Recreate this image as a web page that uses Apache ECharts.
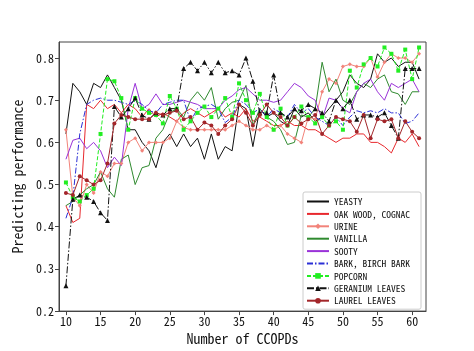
<!DOCTYPE html>
<html>
<head>
<meta charset="utf-8">
<script src="https://cdn.jsdelivr.net/npm/echarts@6/dist/echarts.min.js"></script>
<style>
  html, body { margin: 0; padding: 0; background: #fff; }
  #chart { width: 474px; height: 351px; }
</style>
</head>
<body>
<div id="chart"></div>
<script>
const FONT = "'Noto Sans Mono CJK SC', 'DejaVu Sans Mono', monospace";
const AXISCOLOR = '#444';

// x = number of CCOPDs, 10..61
const xValues = [];
for (let i = 10; i <= 61; i++) xValues.push(i);

const xTicks = [10, 15, 20, 25, 30, 35, 40, 45, 50, 55, 60];
const yTicks = [0.2, 0.3, 0.4, 0.5, 0.6, 0.7, 0.8];

const yeasty = [0.62, 0.74, 0.72, 0.69, 0.74, 0.73, 0.76, 0.73, 0.70, 0.63,
  0.63, 0.60, 0.58, 0.54, 0.60, 0.62, 0.59, 0.62, 0.59, 0.61,
  0.56, 0.62, 0.56, 0.59, 0.58, 0.69, 0.68, 0.59, 0.68, 0.66,
  0.67, 0.65, 0.64, 0.68, 0.66, 0.67, 0.65, 0.66, 0.68, 0.70,
  0.72, 0.76, 0.74, 0.73, 0.75, 0.81, 0.79, 0.80, 0.78, 0.79,
  0.79, 0.75];
const oakWood = [0.45, 0.41, 0.42, 0.69, 0.68, 0.70, 0.68, 0.69, 0.67, 0.69,
  0.68, 0.66, 0.68, 0.66, 0.67, 0.66, 0.65, 0.67, 0.68, 0.67,
  0.66, 0.67, 0.68, 0.66, 0.67, 0.66, 0.68, 0.65, 0.66, 0.65,
  0.64, 0.64, 0.65, 0.64, 0.64, 0.63, 0.63, 0.62, 0.61, 0.60,
  0.61, 0.61, 0.62, 0.62, 0.60, 0.60, 0.59, 0.575, 0.61, 0.60,
  0.62, 0.59];
const urine = [0.63, 0.47, 0.45, 0.50, 0.48, 0.53, 0.52, 0.55, 0.55, 0.60,
  0.61, 0.58, 0.60, 0.60, 0.60, 0.61, 0.65, 0.635, 0.63, 0.63,
  0.63, 0.63, 0.63, 0.63, 0.64, 0.65, 0.64, 0.63, 0.63, 0.64,
  0.63, 0.64, 0.62, 0.61, 0.60, 0.66, 0.655, 0.72, 0.75, 0.74,
  0.78, 0.785, 0.78, 0.78, 0.80, 0.755, 0.79, 0.81, 0.80, 0.80,
  0.79, 0.81];
const vanilla = [0.45, 0.46, 0.475, 0.49, 0.50, 0.53, 0.49, 0.47, 0.56, 0.57,
  0.50, 0.54, 0.545, 0.61, 0.63, 0.67, 0.68, 0.66, 0.70, 0.72,
  0.70, 0.73, 0.655, 0.68, 0.695, 0.70, 0.735, 0.64, 0.68, 0.66,
  0.65, 0.63, 0.595, 0.60, 0.665, 0.66, 0.68, 0.79, 0.72, 0.75,
  0.70, 0.69, 0.72, 0.74, 0.73, 0.75, 0.76, 0.72, 0.715, 0.69,
  0.72, 0.72];
const sooty = [0.56, 0.605, 0.61, 0.585, 0.60, 0.58, 0.54, 0.565, 0.545, 0.68,
  0.74, 0.68, 0.69, 0.715, 0.69, 0.69, 0.695, 0.70, 0.695, 0.69,
  0.68, 0.68, 0.68, 0.70, 0.71, 0.725, 0.73, 0.715, 0.70, 0.70,
  0.695, 0.70, 0.72, 0.74, 0.73, 0.71, 0.70, 0.655, 0.705, 0.70,
  0.68, 0.67, 0.72, 0.74, 0.75, 0.72, 0.70, 0.74, 0.73, 0.74,
  0.75, 0.72];
const bark = [0.42, 0.47, 0.62, 0.69, 0.70, 0.705, 0.70, 0.70, 0.695, 0.69,
  0.70, 0.69, 0.675, 0.67, 0.69, 0.695, 0.70, 0.70, 0.65, 0.68,
  0.685, 0.69, 0.68, 0.647, 0.66, 0.70, 0.69, 0.67, 0.68, 0.66,
  0.68, 0.67, 0.66, 0.69, 0.67, 0.68, 0.66, 0.65, 0.64, 0.66,
  0.64, 0.66, 0.675, 0.67, 0.675, 0.67, 0.68, 0.67, 0.67, 0.645,
  0.65, 0.67];
const popcorn = [0.505, 0.47, 0.46, 0.475, 0.49, 0.62, 0.75, 0.745, 0.705, 0.63,
  0.705, 0.68, 0.67, 0.665, 0.645, 0.71, 0.68, 0.63, 0.65, 0.67,
  0.685, 0.66, 0.68, 0.705, 0.66, 0.74, 0.70, 0.67, 0.715, 0.66,
  0.63, 0.68, 0.64, 0.66, 0.685, 0.66, 0.645, 0.66, 0.64, 0.65,
  0.63, 0.77, 0.73, 0.785, 0.80, 0.78, 0.825, 0.81, 0.77, 0.82,
  0.75, 0.825];
const geranium = [0.26, 0.465, 0.475, 0.47, 0.46, 0.433, 0.415, 0.685, 0.66, 0.68,
  0.705, 0.665, 0.655, 0.67, 0.665, 0.68, 0.68, 0.775, 0.79, 0.77,
  0.79, 0.765, 0.79, 0.765, 0.77, 0.76, 0.80, 0.745, 0.67, 0.67,
  0.76, 0.67, 0.66, 0.68, 0.675, 0.69, 0.68, 0.67, 0.65, 0.70,
  0.68, 0.70, 0.655, 0.665, 0.665, 0.66, 0.67, 0.64, 0.61, 0.775,
  0.775, 0.775];
const laurel = [0.48, 0.475, 0.52, 0.51, 0.50, 0.51, 0.55, 0.645, 0.665, 0.66,
  0.655, 0.655, 0.655, 0.67, 0.665, 0.67, 0.675, 0.655, 0.66, 0.63,
  0.647, 0.64, 0.62, 0.64, 0.655, 0.69, 0.67, 0.64, 0.665, 0.69,
  0.67, 0.66, 0.64, 0.66, 0.645, 0.655, 0.665, 0.62, 0.64, 0.66,
  0.655, 0.65, 0.625, 0.665, 0.61, 0.655, 0.65, 0.655, 0.61, 0.65,
  0.625, 0.61];

const pairs = (ys) => xValues.map((x, i) => [x, ys[i]]);

function lineSeries(name, ys, color, lineType, symbol, symbolSize) {
  return {
    name,
    type: 'line',
    data: pairs(ys),
    symbol: symbol || 'none',
    symbolSize: symbolSize || 4,
    showSymbol: !!symbol,
    animation: false,
    lineStyle: { color, width: 1, type: lineType || 'solid' },
    itemStyle: { color },
  };
}

// legend entries: lines without markers get an invisible symbol
const plainNames = ['YEASTY', 'OAK WOOD, COGNAC', 'VANILLA', 'SOOTY', 'BARK, BIRCH BARK'];
const legendNames = ['YEASTY', 'OAK WOOD, COGNAC', 'URINE', 'VANILLA', 'SOOTY',
  'BARK, BIRCH BARK', 'POPCORN', 'GERANIUM LEAVES', 'LAUREL LEAVES'];

const myChart = echarts.init(document.getElementById('chart'));

myChart.setOption({
  backgroundColor: '#fff',
  animation: false,
  grid: {
    left: 59,
    right: 48,
    top: 42,
    bottom: 39,
    show: true,
    borderColor: AXISCOLOR,
    borderWidth: 1,
  },
  legend: {
    orient: 'vertical',
    left: 303,
    top: 192,
    padding: [4, 11, 3, 3],
    itemWidth: 22,
    itemHeight: 7,
    itemGap: 1.4,
    backgroundColor: '#fff',
    borderColor: '#ccc',
    borderWidth: 1,
    borderRadius: 2,
    textStyle: {
      fontFamily: FONT,
      fontSize: 9.5,
      lineHeight: 11,
      color: '#111',
    },
    data: legendNames.map((n) => (plainNames.indexOf(n) >= 0
      ? { name: n, itemStyle: { opacity: 0 } }
      : { name: n })),
  },
  xAxis: {
    type: 'value',
    min: 9,
    max: 62,
    name: 'Number of CCOPDs',
    nameLocation: 'middle',
    nameGap: 20,
    nameTextStyle: { fontFamily: FONT, fontSize: 14, color: '#111' },
    splitLine: { show: false },
    axisLine: { lineStyle: { color: AXISCOLOR } },
    axisTick: { length: 4, customValues: xTicks, lineStyle: { color: AXISCOLOR } },
    axisLabel: { customValues: xTicks, fontFamily: FONT, fontSize: 12, color: '#111', margin: 4 },
  },
  yAxis: {
    type: 'value',
    min: 0.2,
    max: 0.838,
    name: 'Predicting performance',
    nameLocation: 'middle',
    nameGap: 34,
    nameTextStyle: { fontFamily: FONT, fontSize: 14, color: '#111' },
    splitLine: { show: false },
    axisLine: { lineStyle: { color: AXISCOLOR } },
    axisTick: { length: 4, customValues: yTicks, lineStyle: { color: AXISCOLOR } },
    axisLabel: {
      customValues: yTicks,
      fontFamily: FONT,
      fontSize: 12,
      color: '#111',
      margin: 5,
      formatter: (v) => v.toFixed(1),
    },
  },
  series: [
    lineSeries('YEASTY', yeasty, '#111111'),
    lineSeries('OAK WOOD, COGNAC', oakWood, '#e8282d'),
    lineSeries('URINE', urine, '#f2837a', 'solid', 'diamond', 4),
    lineSeries('VANILLA', vanilla, '#2f8a2f'),
    lineSeries('SOOTY', sooty, '#9a32d8'),
    lineSeries('BARK, BIRCH BARK', bark, '#2b2fd6', [6, 2, 1.5, 2]),
    lineSeries('POPCORN', popcorn, '#22ee22', [4, 2], 'rect', 4),
    lineSeries('GERANIUM LEAVES', geranium, '#111111', [7, 2, 1.5, 2], 'triangle', 5),
    lineSeries('LAUREL LEAVES', laurel, '#a3262a', 'solid', 'circle', 4),
  ],
});
</script>
</body>
</html>
